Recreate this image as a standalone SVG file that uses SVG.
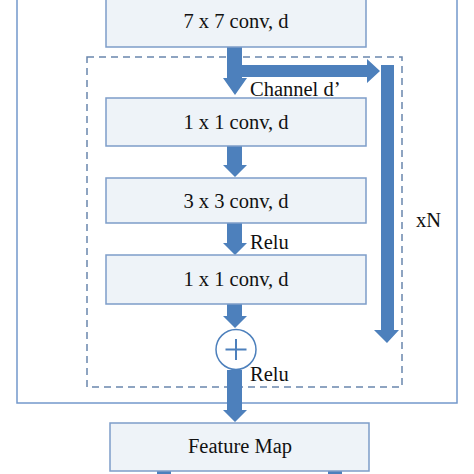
<svg xmlns="http://www.w3.org/2000/svg" width="474" height="474" viewBox="0 0 474 474">
<style>
.box{fill:#eef3f8;stroke:#7d9dc9;stroke-width:1.5}
.lbl{font-family:"Liberation Serif","Times New Roman",serif;font-size:20.5px;fill:#111}
.arr{fill:#4d80bc}
</style>
<rect width="474" height="474" fill="#ffffff"/>
<rect id="outer" x="17" y="-10" width="440" height="413" fill="none" stroke="#7398cb" stroke-width="1.5"/>
<rect id="block" x="87" y="57" width="315" height="330" fill="none" stroke="#6a86ad" stroke-width="1.5" stroke-dasharray="7,5"/>
<g id="connectors">
  <polygon class="arr" points="227,47 242,47 242,78 247,78 235,95 223,78 227,78"/>
  <polygon class="arr" points="242,65 367,65 367,59 380,71 367,83 367,77 242,77"/>
  <polygon class="arr" points="381,65 394,65 394,330 399,330 387,343 374,330 381,330"/>
  <polygon class="arr" points="227,146 242,146 242,165 247,165 235,177 223,165 227,165"/>
  <polygon class="arr" points="227,223 242,223 242,243 247,243 235,255 223,243 227,243"/>
  <polygon class="arr" points="227,304 242,304 242,316 247,316 235,328 223,316 227,316"/>
  <polygon class="arr" points="227,370 242,370 242,410 247,410 235,422 223,410 227,410"/>
  <rect class="arr" x="157" y="471" width="14" height="3"/>
  <rect class="arr" x="328" y="471" width="14" height="3"/>
</g>
<g id="n7x7"><rect class="box" x="106" y="-5" width="260" height="52"/><text class="lbl" x="236" y="28" text-anchor="middle">7 x 7 conv, d</text></g>
<g id="n1x1a"><rect class="box" x="106" y="98" width="260" height="48"/><text class="lbl" x="236" y="129" text-anchor="middle">1 x 1 conv, d</text></g>
<g id="n3x3"><rect class="box" x="106" y="178" width="260" height="45"/><text class="lbl" x="236" y="208" text-anchor="middle">3 x 3 conv, d</text></g>
<g id="n1x1b"><rect class="box" x="106" y="255" width="260" height="49"/><text class="lbl" x="236" y="286" text-anchor="middle">1 x 1 conv, d</text></g>
<g id="sum"><circle cx="236" cy="349.5" r="20" fill="#ffffff" stroke="#4d80bc" stroke-width="1.5"/><path d="M236,339v21M225.5,349.5h21" stroke="#4d80bc" stroke-width="2" fill="none"/></g>
<g id="feature"><rect class="box" x="110" y="423" width="259" height="48"/><text class="lbl" x="240" y="453" text-anchor="middle">Feature Map</text></g>
<text class="lbl" x="250" y="96">Channel d’</text>
<text class="lbl" x="250" y="249">Relu</text>
<text class="lbl" x="250" y="381">Relu</text>
<text class="lbl" x="416" y="227">xN</text>
</svg>
